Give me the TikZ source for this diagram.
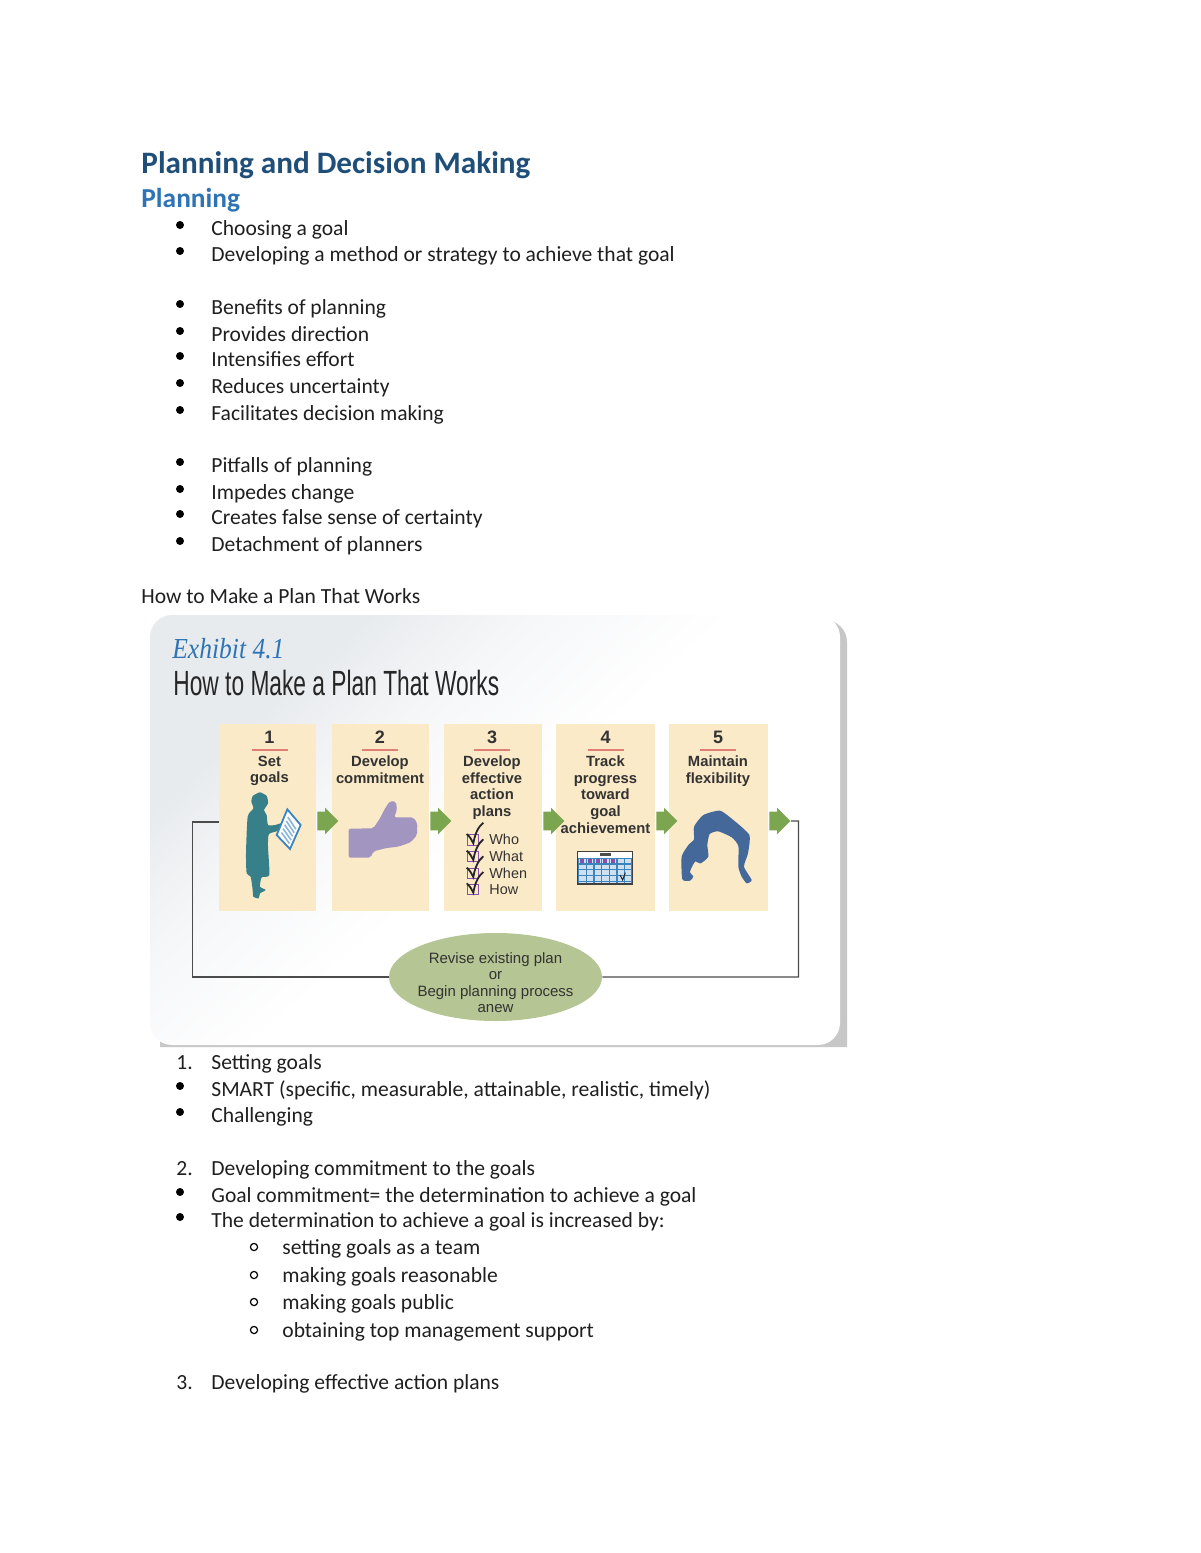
\documentclass[tikz,border=0pt]{standalone}
\usepackage{graphicx}
\usepackage{fontspec}
\setmainfont{Carlito}
\newfontfamily\figsans{Liberation Sans}
\newfontfamily\figserif{Liberation Serif}
\usetikzlibrary{shapes.geometric,shapes.arrows,calc}
\definecolor{headA}{HTML}{1F4E79}
\definecolor{headB}{HTML}{2E74B5}
\definecolor{boxfill}{HTML}{FBEAC8}
\definecolor{arrowgreen}{HTML}{7BA64F}
\definecolor{ovalfill}{HTML}{B5C593}
\definecolor{figtext}{HTML}{333333}
\definecolor{ruleclr}{HTML}{E07F72}
\definecolor{teal}{HTML}{37808A}
\definecolor{thumb}{HTML}{A295BF}
\definecolor{gym}{HTML}{44689A}
\definecolor{calblue}{HTML}{3B84BE}
\definecolor{purplebox}{HTML}{8A4FA8}
\definecolor{panA}{HTML}{E8EBEE}
\definecolor{panB}{HTML}{F6F7F9}
\pgfdeclarehorizontalshading{panelsh}{100bp}{color(0bp)=(panA); color(28bp)=(panA); color(38bp)=(panB); color(50bp)=(white); color(100bp)=(white)}
\tikzset{
  bodytext/.style={anchor=base west,inner sep=0pt,font=\fontsize{10.78}{12}\selectfont,text=black!88},
  bullet/.style={circle,fill=black,inner sep=0pt,minimum size=4pt},
  subbullet/.style={circle,draw=black,line width=.6pt,inner sep=0pt,minimum size=3.6pt},
  stepbox/.style={fill=boxfill,inner sep=0pt,minimum height=93.5pt,anchor=north west},
  stepnum/.style={inner sep=0pt,font=\figsans\bfseries\fontsize{9}{9}\selectfont,text=figtext},
  steptext/.style={inner sep=0pt,font=\figsans\bfseries\fontsize{7.4}{8.3}\selectfont,text=figtext,align=center,anchor=north},
  checktext/.style={inner sep=0pt,anchor=west,font=\figsans\fontsize{7.2}{8}\selectfont,text=figtext},
  greenarrow/.style={single arrow,fill=arrowgreen,inner sep=0pt,minimum height=10.5pt,minimum width=13pt,single arrow head extend=2pt,anchor=west},
  loopline/.style={draw=black!70,line width=.7pt},
  checkbox/.style={draw=purplebox,line width=.6pt,fill=boxfill,inner sep=0pt,minimum size=5.2pt},
}
\newcommand{\redrule}[1]{\draw[draw=ruleclr,line width=1pt] (#1-18,749.5) -- (#1+18,749.5);}
\begin{document}
\begin{tikzpicture}[x=.5pt,y=-.5pt]
\useasboundingbox[fill=white] (0,0) rectangle (1200,1553);
% headings
\node[anchor=base west,inner sep=0pt,text=headA,font=\bfseries\fontsize{15.6}{17}\selectfont] (h1) at (141,173) {Planning and Decision Making};
\node[anchor=base west,inner sep=0pt,text=headB,font=\bfseries\fontsize{13.7}{15}\selectfont] (h2) at (141,207) {Planning};
% body text
\foreach \nm/\yy/\tx in {
 a/235/{Choosing a goal},
 b/261/{Developing a method or strategy to achieve that goal},
 c/314/{Benefits of planning},
 d/341/{Provides direction},
 e/366/{Intensifies effort},
 f/393/{Reduces uncertainty},
 g/420/{Facilitates decision making},
 h/472/{Pitfalls of planning},
 i/499/{Impedes change},
 j/524/{Creates false sense of certainty},
 k/551/{Detachment of planners},
 l/1096/{SMART (specific, measurable, attainable, realistic, timely)},
 m/1122/{Challenging},
 n/1202/{Goal commitment= the determination to achieve a goal},
 o/1227/{The determination to achieve a goal is increased by:}}
 {
  \node[bodytext] (t\nm) at (211,\yy) {\tx};
  \node[bullet] (b\nm) at (180,\yy-10) {};
 }
\node[bodytext] (intro) at (141,603) {How to Make a Plan That Works};
\foreach \nm/\yy/\num/\tx in {
 p/1069/1./{Setting goals},
 q/1175/2./{Developing commitment to the goals},
 r/1389/3./{Developing effective action plans}}
 {
  \node[bodytext] (t\nm) at (211,\yy) {\tx};
  \node[bodytext] (n\nm) at (176,\yy) {\num};
 }
\foreach \nm/\yy/\tx in {
 s/1254/{setting goals as a team},
 t/1282/{making goals reasonable},
 u/1309/{making goals public},
 v/1337/{obtaining top management support}}
 {
  \node[bodytext] (t\nm) at (282,\yy) {\tx};
  \node[subbullet] (o\nm) at (254,\yy-7) {};
 }
% exhibit panel
\fill[black!22] (170,620) -- (825,620) arc[start angle=90,end angle=0,radius=11pt] -- (847,1047) -- (160,1047) -- cycle;
\path[shading=panelsh,shading angle=-48,rounded corners=11pt] (150,615) rectangle (840,1045);
\node[anchor=base west,inner sep=0pt,text=headB,font=\figserif\itshape\fontsize{14.5}{16}\selectfont] (exh) at (172,658) {\scalebox{.88}[1]{Exhibit 4.1}};
\node[anchor=base west,inner sep=0pt,text=black!85,font=\figsans\fontsize{17.5}{18}\selectfont] (ttl) at (173,695) {\scalebox{.65}[1]{How to Make a Plan That Works}};
% boxes
\node[stepbox,minimum width=48.5pt] (s1) at (219,724) {};
\node[stepbox,minimum width=48.5pt] (s2) at (332,724) {};
\node[stepbox,minimum width=49pt] (s3) at (444,724) {};
\node[stepbox,minimum width=49.5pt] (s4) at (556,724) {};
\node[stepbox,minimum width=49.5pt] (s5) at (669,724) {};
\foreach \nm/\xx/\num in {1/269.5/1,2/380/2,3/492/3,4/605.5/4,5/718/5}{
  \node[stepnum] (num\nm) at (\xx,737) {\num};
  \redrule{\xx}
}
\node[steptext] (lab1) at (269.5,755.5) {Set\\goals};
\node[steptext] (lab2) at (380,755.5) {Develop\\commitment};
\node[steptext] (lab3) at (492,755.5) {Develop\\effective\\action\\plans};
\node[steptext] (lab4) at (605.5,755.5) {Track\\progress\\toward\\goal\\achievement};
\node[steptext] (lab5) at (718,755.5) {Maintain\\flexibility};
% woman
\begin{scope}[shift={(210,720)},x=.16667pt,y=-.16667pt]
\fill[teal] plot[smooth cycle,tension=.35] coordinates {(128,228) (150,217) (170,228) (174,250) (162,270) (170,285) (174,315) (195,315) (215,310) (212,330) (177,342) (174,380) (178,465) (155,472) (150,500) (167,510) (150,520) (146,535) (130,530) (128,510) (122,470) (110,460) (108,400) (113,290) (130,265) (124,245)};
\draw[calblue,line width=.9pt,fill=white] (232,268) -- (272,315) -- (240,387) -- (200,345) -- cycle;
\foreach \t in {.2,.35,.5,.65,.8}
  \draw[calblue!60,line width=.8pt] ($(232,268)!\t!(200,345)+(8,8)$) -- ($(272,315)!\t!(240,387)+(-8,-2)$);
% thumb
\fill[thumb,rounded corners=1pt] (416,326) -- (490,325) -- (510,295) -- (525,265) -- (540,243) -- (558,245) -- (561,270) -- (552,292) -- (610,292) -- (622,310) -- (621,345) -- (602,367) -- (565,380) -- (530,384) -- (490,394) -- (482,413) -- (416,413) -- cycle;
% checklist
\foreach \yy in {360,410,461,508}{
  \node[checkbox] at (789,\yy) {};
  \draw[black!85,line width=.9pt] (770,\yy-18) .. controls (780,\yy-10) and (785,\yy) .. (790,\yy+10) .. controls (795,\yy-20) and (805,\yy-40) .. (820,\yy-52);
}
\end{scope}
\node[checktext] (w1) at (489,839) {Who};
\node[checktext] (w2) at (489,856) {What};
\node[checktext] (w3) at (489,873) {When};
\node[checktext] (w4) at (489,889.5) {How};
% calendar and gymnast
\begin{scope}[shift={(540,720)},x=.16667pt,y=-.16667pt]
\draw[black!75,line width=.7pt,fill=white] (113,395) rectangle (278,492);
\fill[black!70] (180,398) rectangle (212,408);
\fill[calblue!25] (116,415) rectangle (275,488);
\foreach \yy in {415,432,449,466,485} \draw[calblue,line width=.8pt] (116,\yy) -- (275,\yy);
\foreach \xx in {116,139,162,185,208,231,253,275} \draw[calblue,line width=.8pt] (\xx,415) -- (\xx,488);
\foreach \xx in {127,150,173,196,219} \fill[purplebox] (\xx-6,418) rectangle (\xx+6,429);
\draw[black!85,line width=.5pt] (240,465) -- (248,480) -- (256,458);
\fill[gym] plot[smooth cycle,tension=.35] coordinates {(425,410) (445,375) (462,358) (462,320) (490,285) (540,272) (580,300) (628,345) (624,400) (612,440) (635,480) (620,490) (605,470) (595,440) (595,378) (575,352) (535,334) (509,342) (502,375) (505,410) (482,430) (465,425) (450,455) (460,470) (450,482) (427,478)};
\end{scope}
% arrows
\node[greenarrow] (a1) at (317,821) {\rule{0pt}{9pt}};
\node[greenarrow] (a2) at (430,821) {\rule{0pt}{9pt}};
\node[greenarrow] (a3) at (543,821) {\rule{0pt}{9pt}};
\node[greenarrow] (a4) at (656,821) {\rule{0pt}{9pt}};
\node[greenarrow] (a5) at (769,821) {\rule{0pt}{9pt}};
% oval and loop
\node[ellipse,fill=ovalfill,inner sep=0pt,minimum width=106.5pt,minimum height=44pt] (oval) at (495.5,977) {};
\node[inner sep=0pt,align=center,text=figtext,font=\figsans\fontsize{7.5}{8.2}\selectfont] (ovaltext) at (495.5,982.5) {Revise existing plan\\or\\Begin planning process\\anew};
\coordinate (cr1) at (798.5,821);
\coordinate (cr2) at (798.5,977);
\coordinate (cl1) at (192.5,822);
\coordinate (cl2) at (192.5,977);
\draw[loopline] (a5.tip) -- (cr1) -- (cr2) -- (oval.east);
\draw[loopline] (oval.west) -- (cl2) -- (cl1) -- (s1.west |- cl1);
\end{tikzpicture}
\end{document}
